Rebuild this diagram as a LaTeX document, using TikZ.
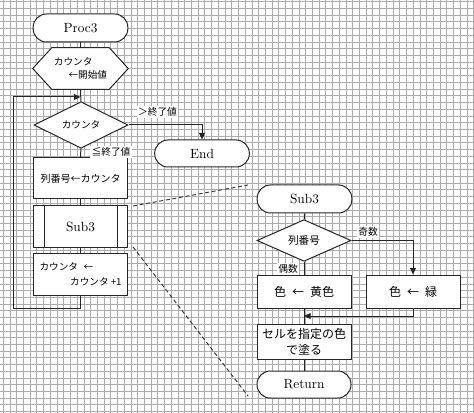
\documentclass[tikz,border=0pt]{standalone}
\usepackage{fontspec}
\newfontfamily\jp{Noto Sans CJK JP}
\usetikzlibrary{arrows.meta,calc,shapes.geometric,backgrounds}
\begin{document}
\begin{tikzpicture}[x=0.75pt,y=-0.75pt,
  gridline/.style={draw=gray!65, line width=0.65pt},
  ln/.style={draw=black!85, line width=0.75pt},
  arr/.style={ln, -{Triangle[length=5pt,width=4.5pt]}},
  dashln/.style={draw=black!80, line width=0.7pt, dash pattern=on 3pt off 2pt},
  jpf/.style 2 args={font=\jp\fontsize{#1}{#2}\selectfont},
  term/.style={ln, fill=white, rounded corners=10pt, minimum width=71pt, inner sep=0pt, font=\fontsize{10}{12}\selectfont},
  procbox/.style={ln, fill=white, minimum width=71pt, inner sep=0pt},
  dia/.style={ln, fill=white, diamond, inner sep=0pt, minimum width=70.5pt},
  lbl/.style={fill=white, inner sep=1pt, jpf={7.3}{9}}
]
\useasboundingbox (0,0) rectangle (474,413);
% grid
\begin{pgfonlayer}{background}
\fill[white] (0,0) rectangle (474,413);
\foreach \i in {0,...,70} {\draw[gridline] ({3.3+6.72*\i},0) -- ({3.3+6.72*\i},413);}
\foreach \j in {0,...,61} {\draw[gridline] (0,{1.7+6.72*\j}) -- (474,{1.7+6.72*\j});}
\end{pgfonlayer}

% ---------- Proc3 ----------
\node[term, minimum height=21pt] (proc3) at (80.5,28) {Proc3};
\node[minimum width=71.25pt, minimum height=30.75pt, inner sep=0pt, align=left, jpf={7.2}{10}] (hex) at (80.5,68.5) {カウンタ\\\hspace*{11pt}←開始値};
\begin{pgfonlayer}{background}
\draw[ln, fill=white] (hex.west) -- ($(hex.north west)+(19,0)$) -- ($(hex.north east)+(-19,0)$) -- (hex.east) -- ($(hex.south east)+(-19,0)$) -- ($(hex.south west)+(19,0)$) -- cycle;
\end{pgfonlayer}
\node[dia, minimum height=30pt, jpf={7.2}{9}] (d1) at (81,125) {カウンタ};
\node[procbox, minimum height=30.75pt, jpf={7.5}{9}] (box1) at (80.5,178.5) {列番号←カウンタ};
\node[procbox, minimum height=30.75pt, font=\fontsize{10}{12}\selectfont] (call) at (80.5,226.5) {Sub3};
\draw[ln] ($(call.north west)+(12,0)$) -- ($(call.south west)+(12,0)$);
\draw[ln] ($(call.north east)+(-11,0)$) -- ($(call.south east)+(-11,0)$);
\node[procbox, minimum height=31.5pt, align=left, jpf={7.2}{11}] (box2) at (80.5,274) {カウンタ\hspace{0.6em}←\\\hspace*{23pt}カウンタ +1};
\node[term, minimum height=20.25pt] (end) at (202,153.5) {End};

\coordinate (lb) at (13,308);
\coordinate (join) at (80.5,97);
\draw[ln] (proc3) -- (hex);
\draw[ln] (hex) -- (d1);
\draw[ln] (d1) -- (box1);
\draw[ln] (box1) -- (call);
\draw[ln] (call) -- (box2);
\draw[arr] (box2.south) |- (lb) |- (join);
\draw[arr] (d1.east) -| (end.north);
\node[lbl] (gt) at (157.5,112) {＞終了値};
\node[lbl] (le) at (111,152) {≦終了値};

% ---------- Sub3 ----------
\node[term, minimum height=21pt] (sub3) at (304.5,199) {Sub3};
\node[dia, minimum height=30.75pt, jpf={8}{10}] (d2) at (304,240.5) {列番号};
\node[procbox, minimum width=70.5pt, minimum height=24.75pt, jpf={9}{11}] (yel) at (304,291.5) {色\hspace{0.5em}←\hspace{0.5em}黄色};
\node[procbox, minimum width=70.5pt, minimum height=24.75pt, jpf={9}{11}] (grn) at (413,291.5) {色\hspace{0.5em}←\hspace{0.5em}緑};
\node[procbox, minimum width=70.5pt, minimum height=26.25pt, align=center, jpf={9}{12}] (paint) at (304,341.5) {セルを指定の色\\で塗る};
\node[term, minimum width=70.5pt, minimum height=20.25pt] (ret) at (304,384.5) {Return};

\draw[ln] (sub3) -- (d2);
\draw[ln] (d2.south) -- (yel.north);
\draw[arr] (d2.east) -| (grn.north);
\draw[ln] (yel) -- (paint);
\coordinate (merge) at ($(yel.south)!0.5!(paint.north)$);
\draw[arr] (grn.south) |- (merge);
\draw[ln] (paint) -- (ret);
\node[lbl] (odd) at (368,232) {奇数};
\node[lbl] (even) at (288,269) {偶数};

% ---------- dashed zoom lines ----------
\coordinate (za) at (133,206);
\coordinate (zb) at (248,185);
\coordinate (zc) at (133,247);
\coordinate (zd) at (248,396);
\draw[dashln] (za) -- (zb);
\draw[dashln] (zc) -- (zd);
\end{tikzpicture}
\end{document}
